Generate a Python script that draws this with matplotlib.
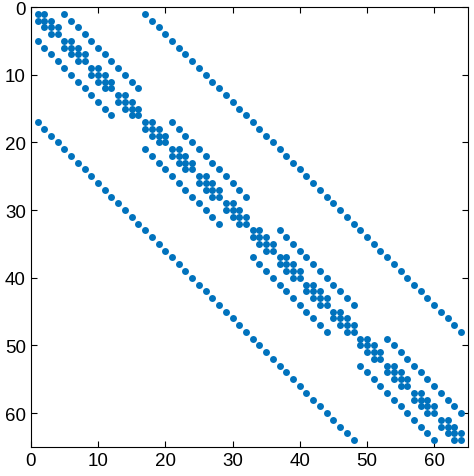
import numpy as np
import matplotlib.pyplot as plt

# 3D 7-point Laplacian on a 4x4x4 grid -> 64x64 sparsity pattern
grid_n = 4
offsets = [-16, -4, -1, 0, 1, 4, 16]

size = grid_n ** 3
rows, cols = [], []
for i in range(size):
    for off in offsets:
        j = i + off
        if j < 0 or j >= size:
            continue
        if abs(off) == 1 and j // 4 != i // 4:
            continue
        if abs(off) == 4 and j // 16 != i // 16:
            continue
        rows.append(i + 1)
        cols.append(j + 1)

fig = plt.figure(figsize=(4.74, 4.77), dpi=100)
ax = fig.add_axes([0.065, 0.061, 0.922, 0.922])
ax.plot(cols, rows, "o", color="#0072BD", markersize=5, markeredgewidth=0)
ax.set_xlim(0, 65)
ax.set_ylim(65, 0)
ax.set_xticks(range(0, 61, 10))
ax.set_yticks(range(0, 61, 10))
ax.tick_params(direction="in", labelsize=13.5, length=4, top=True, right=True)
for lab in ax.get_xticklabels() + ax.get_yticklabels():
    lab.set_family("Liberation Sans")
for s in ax.spines.values():
    s.set_linewidth(0.8)
fig.savefig("out.png")
